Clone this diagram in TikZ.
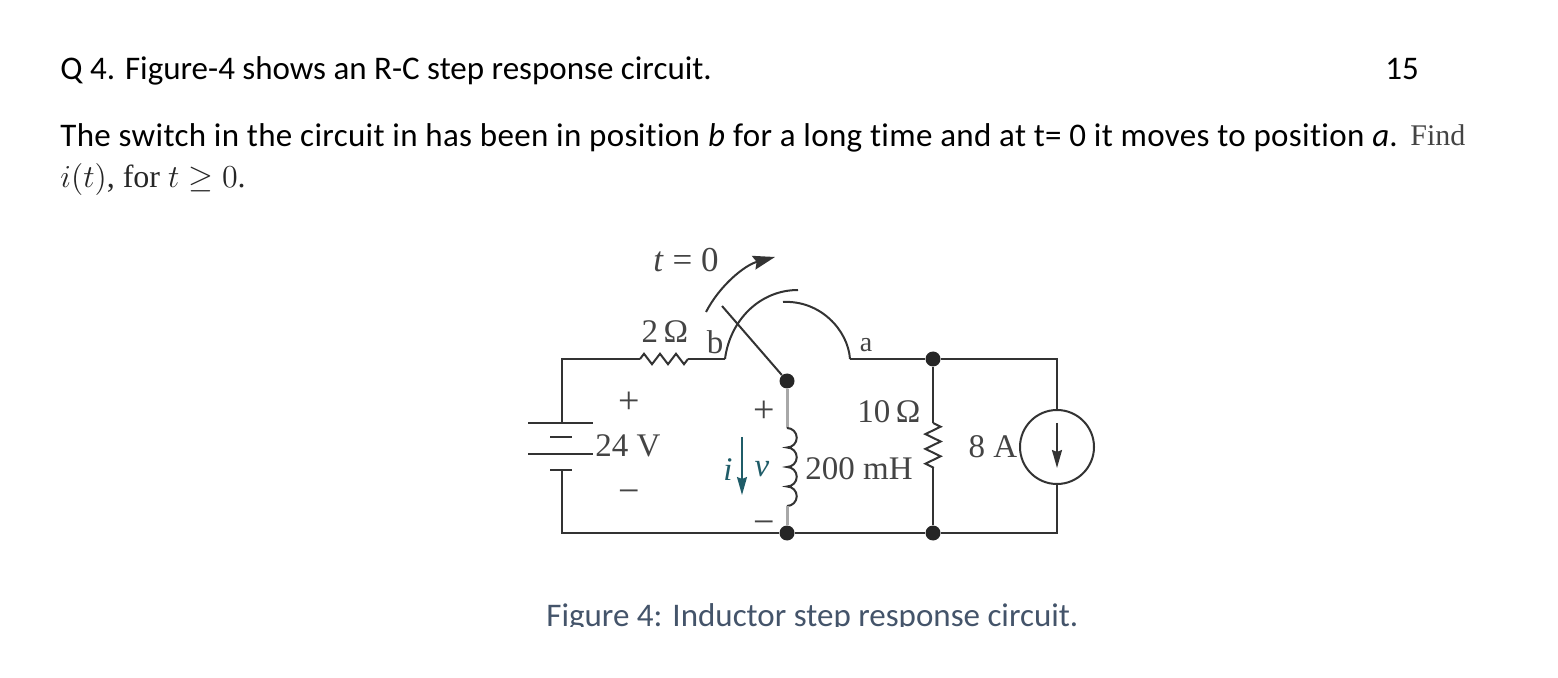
\documentclass[tikz,border=0pt]{standalone}
\usepackage{fix-cm}
\usepackage{amsmath}
\usepackage{amssymb}
\usepackage{fontspec}
\setmainfont[RawFeature={-liga}]{Carlito}
\newfontfamily\circfont{Liberation Serif}
\usetikzlibrary{arrows.meta,decorations.pathmorphing}

\definecolor{captioncol}{HTML}{44546A}
\definecolor{wirecol}{HTML}{333333}
\definecolor{labelcol}{HTML}{444444}
\definecolor{tealcol}{HTML}{1F5C68}
\definecolor{greywire}{HTML}{A8A8A8}

\tikzset{
  bodytext/.style={anchor=base west,inner sep=0pt,font=\fontsize{16.5}{19}\selectfont},
  serifbody/.style={anchor=base west,inner sep=0pt,text=labelcol,font=\circfont\fontsize{15}{18}\selectfont},
  circlabel/.style={inner sep=0pt,text=labelcol,font=\circfont\fontsize{16.5}{19}\selectfont},
  signlabel/.style={inner sep=0pt,text=labelcol,font=\circfont\fontsize{19}{21}\selectfont},
  wire/.style={draw=wirecol,line width=1pt},
  junction/.style={circle,fill=black!85,inner sep=0pt,minimum size=7.5pt},
  smallres/.style={decorate,decoration={zigzag,segment length=8pt,amplitude=2.6pt}},
  bigres/.style={decorate,decoration={zigzag,segment length=7.4pt,amplitude=3.8pt}},
}

\begin{document}
\begin{tikzpicture}[x=0.5pt,y=0.5pt]
\useasboundingbox (0,-678) rectangle (1558,0);

% question text
\node[bodytext] (q1) at (60,-80) {Q 4. Figure-4 shows an R-C step response circuit.};
\node[bodytext] (marks) at (1385,-80) {15};
\node[bodytext] (q2) at (60,-147) {\addfontfeature{LetterSpace=1.0}The switch in the circuit in has been in position \textit{b} for a long time and at t= 0 it moves to position \textit{a}.};
\node[serifbody] (find) at (1410,-146) {Find};
\node[serifbody,text=black!85,font=\circfont\fontsize{16}{19}\selectfont] (q3) at (60,-188) {$i(t)$, for $t\geq 0$.};

% caption, cut off at the bottom
\begin{scope}
\clip (0,-590) rectangle (1558,-626);
\node[bodytext,text=captioncol] (cap) at (546,-626) {Figure 4: Inductor step response circuit.};
\end{scope}

% corners and contacts
\coordinate (tl) at (562,-359);
\coordinate (r2a) at (640,-359);
\coordinate (r2b) at (688,-359);
\coordinate (cb) at (725,-359);
\coordinate (ca) at (850,-359);
\coordinate (tr) at (1057,-359);
\coordinate (bl) at (562,-533);
\coordinate (br) at (1057,-533);
\coordinate (p1) at (562,-423);
\coordinate (p4) at (562,-470);
\coordinate (la) at (787,-428);
\coordinate (lb) at (787,-506);
\coordinate (r10a) at (933,-423);
\coordinate (r10b) at (933,-468);
\coordinate (blade) at (722,-306);
\coordinate (swa) at (706,-312);
\coordinate (swb) at (775,-257);
\coordinate (arcb) at (798,-290);
\coordinate (arca) at (783,-302);
\coordinate (ia) at (742,-437);
\coordinate (ib) at (742,-495);

\node[junction] (n1) at (787,-381) {};
\node[junction] (n2) at (933,-359) {};
\node[junction] (n3) at (787,-533) {};
\node[junction] (n4) at (933,-533) {};
\node[circle,wire,fill=white,minimum size=37pt,inner sep=0pt] (src) at (1057,-447) {};

% wires
\draw[wire] (p1) -- (tl) -- (r2a);
\draw[wire,smallres] (r2a) -- (r2b);
\draw[wire] (r2b) -- (cb);
\draw[wire] (ca) -- (n2) -- (tr) -- (src);
\draw[wire] (src) -- (br) -- (n4) -- (n3) -- (bl) -- (p4);
\draw[wire] (n2) -- (r10a);
\draw[wire,bigres] (r10a) -- (r10b);
\draw[wire] (r10b) -- (n4);

% switch
\draw[wire] (cb) .. controls (730,-320) and (760,-290) .. (arcb);
\draw[wire] (arca) .. controls (820,-300) and (848,-330) .. (ca);
\draw[wire] (blade) -- (n1);
\draw[wire,-{Stealth[length=11pt,width=7pt,inset=1.5pt]}] (swa) .. controls (720,-285) and (745,-265) .. (swb);

% battery
\coordinate (b1l) at (528,-423); \coordinate (b1r) at (593,-423);
\coordinate (b2l) at (550,-437); \coordinate (b2r) at (572,-437);
\coordinate (b3l) at (528,-454); \coordinate (b3r) at (593,-454);
\coordinate (b4l) at (550,-470); \coordinate (b4r) at (572,-470);
\draw[wire] (b1l) -- (b1r);
\draw[wire] (b2l) -- (b2r);
\draw[wire] (b3l) -- (b3r);
\draw[wire] (b4l) -- (b4r);

% inductor
\draw[greywire,line width=1.5pt] (n1) -- (la);
\draw[wire] (la) arc[start angle=90,end angle=-90,radius=9.75]
  arc[start angle=90,end angle=-90,radius=9.75]
  arc[start angle=90,end angle=-90,radius=9.75]
  arc[start angle=90,end angle=-90,radius=9.75];
\draw[greywire,line width=1.5pt] (lb) -- (n3);

% arrows
\draw[tealcol,line width=0.8pt,-{Stealth[length=9pt,width=5pt,inset=1pt]}] (ia) -- (ib);
\coordinate (sarrow1) at (1057,-423);
\coordinate (sarrow2) at (1057,-468);
\draw[wire,-{Stealth[length=9pt,width=5pt,inset=1pt]}] (sarrow1) -- (sarrow2);

% labels
\node[circlabel,font=\circfont\fontsize{17.5}{20}\selectfont] (tlab) at (686,-260) {\textit{t} = 0};
\node[circlabel] (r2lab) at (665,-332) {2\,Ω};
\node[circlabel] (blab) at (715,-342) {b};
\node[circlabel,font=\circfont\fontsize{14}{16}\selectfont] (alab) at (866,-345) {a};
\node[signlabel] (bplus) at (629,-403) {+};
\node[circlabel] (vlab) at (628,-446) {24 V};
\node[signlabel] (bminus) at (629,-497) {−};
\node[signlabel] (lplus) at (764,-412) {+};
\node[circlabel,text=tealcol] (ilab) at (728,-470) {\textit{i}};
\node[circlabel,text=tealcol] (vvlab) at (762,-469) {\textit{v}};
\node[signlabel] (lminus) at (764,-528) {−};
\node[circlabel] (r10lab) at (889,-412) {10\,Ω};
\node[circlabel] (llab) at (859,-469) {200 mH};
\node[circlabel] (alab2) at (993,-447) {8 A};
\end{tikzpicture}
\end{document}
